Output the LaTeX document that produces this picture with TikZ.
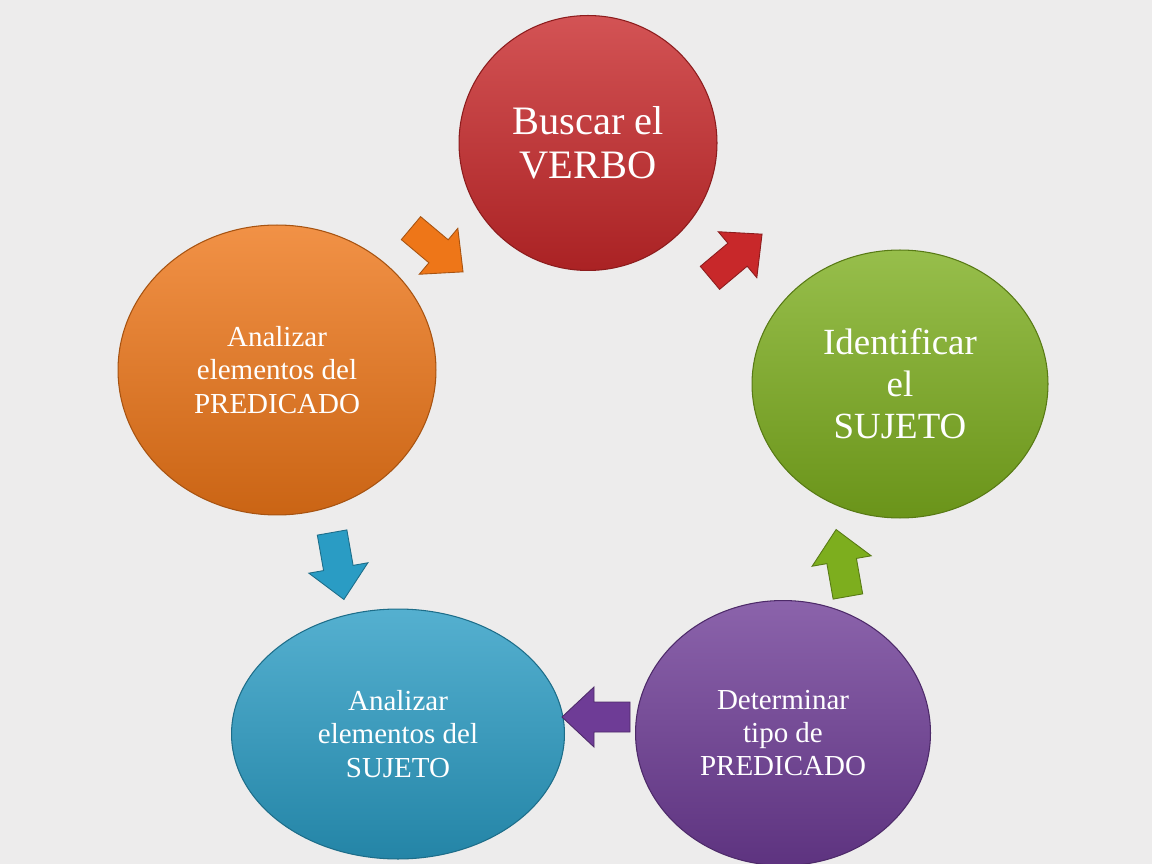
\documentclass[tikz,border=0pt]{standalone}
\usepackage{fontspec}
\setmainfont{Liberation Serif}
\usetikzlibrary{shapes.geometric}
\definecolor{bg}{HTML}{EDECEC}
\definecolor{cred}{HTML}{C8282A}
\definecolor{cgreen}{HTML}{7DAE1E}
\definecolor{cpurple}{HTML}{6E3C96}
\definecolor{cblue}{HTML}{2A9CC4}
\definecolor{corange}{HTML}{EE7618}
\tikzset{
  blob/.style={ellipse, inner sep=0pt, text=white, align=center, draw=#1!70!black, line width=0.6pt,
    top color=#1!80!white, bottom color=#1!85!black},
  arr/.style={draw=#1!70!black, line width=0.5pt, fill=#1, line join=miter}
}
\newcommand{\blockarrow}[4]{% color, x, y, angle
  \draw[arr=#1, shift={(#2,#3)}, rotate=#4]
    (-34,-15) -- (2,-15) -- (2,-30) -- (34,0) -- (2,30) -- (2,15) -- (-34,15) -- cycle;}
\begin{document}
\begin{tikzpicture}[x=0.02cm,y=-0.02cm]
\fill[bg] (0,0) rectangle (1152,864);
\useasboundingbox (0,0) rectangle (1152,864);
\node[blob=cred, minimum width=5.16cm, minimum height=5.1cm, font=\fontsize{23}{25}\selectfont] (r) at (588,143) {Buscar el\\VERBO};
\node[blob=cgreen, minimum width=5.92cm, minimum height=5.36cm, font=\fontsize{21}{24}\selectfont] (g) at (900,384) {Identificar\\el\\SUJETO};
\node[blob=cpurple, minimum width=5.9cm, minimum height=5.3cm, font=\fontsize{16.5}{19}\selectfont] (p) at (783,733) {Determinar\\tipo de\\PREDICADO};
\node[blob=cblue, minimum width=6.66cm, minimum height=5.0cm, font=\fontsize{16.5}{19}\selectfont] (b) at (398,734) {Analizar\\elementos del\\SUJETO};
\node[blob=corange, minimum width=6.36cm, minimum height=5.8cm, font=\fontsize{16.5}{19}\selectfont] (o) at (277,370) {Analizar\\elementos del\\PREDICADO};
\blockarrow{cred}{736}{256}{40}
\blockarrow{cgreen}{842}{563}{100}
\blockarrow{cpurple}{596}{717}{180}
\blockarrow{cblue}{338}{566}{-80}
\blockarrow{corange}{437}{250}{-40}
\end{tikzpicture}
\end{document}
